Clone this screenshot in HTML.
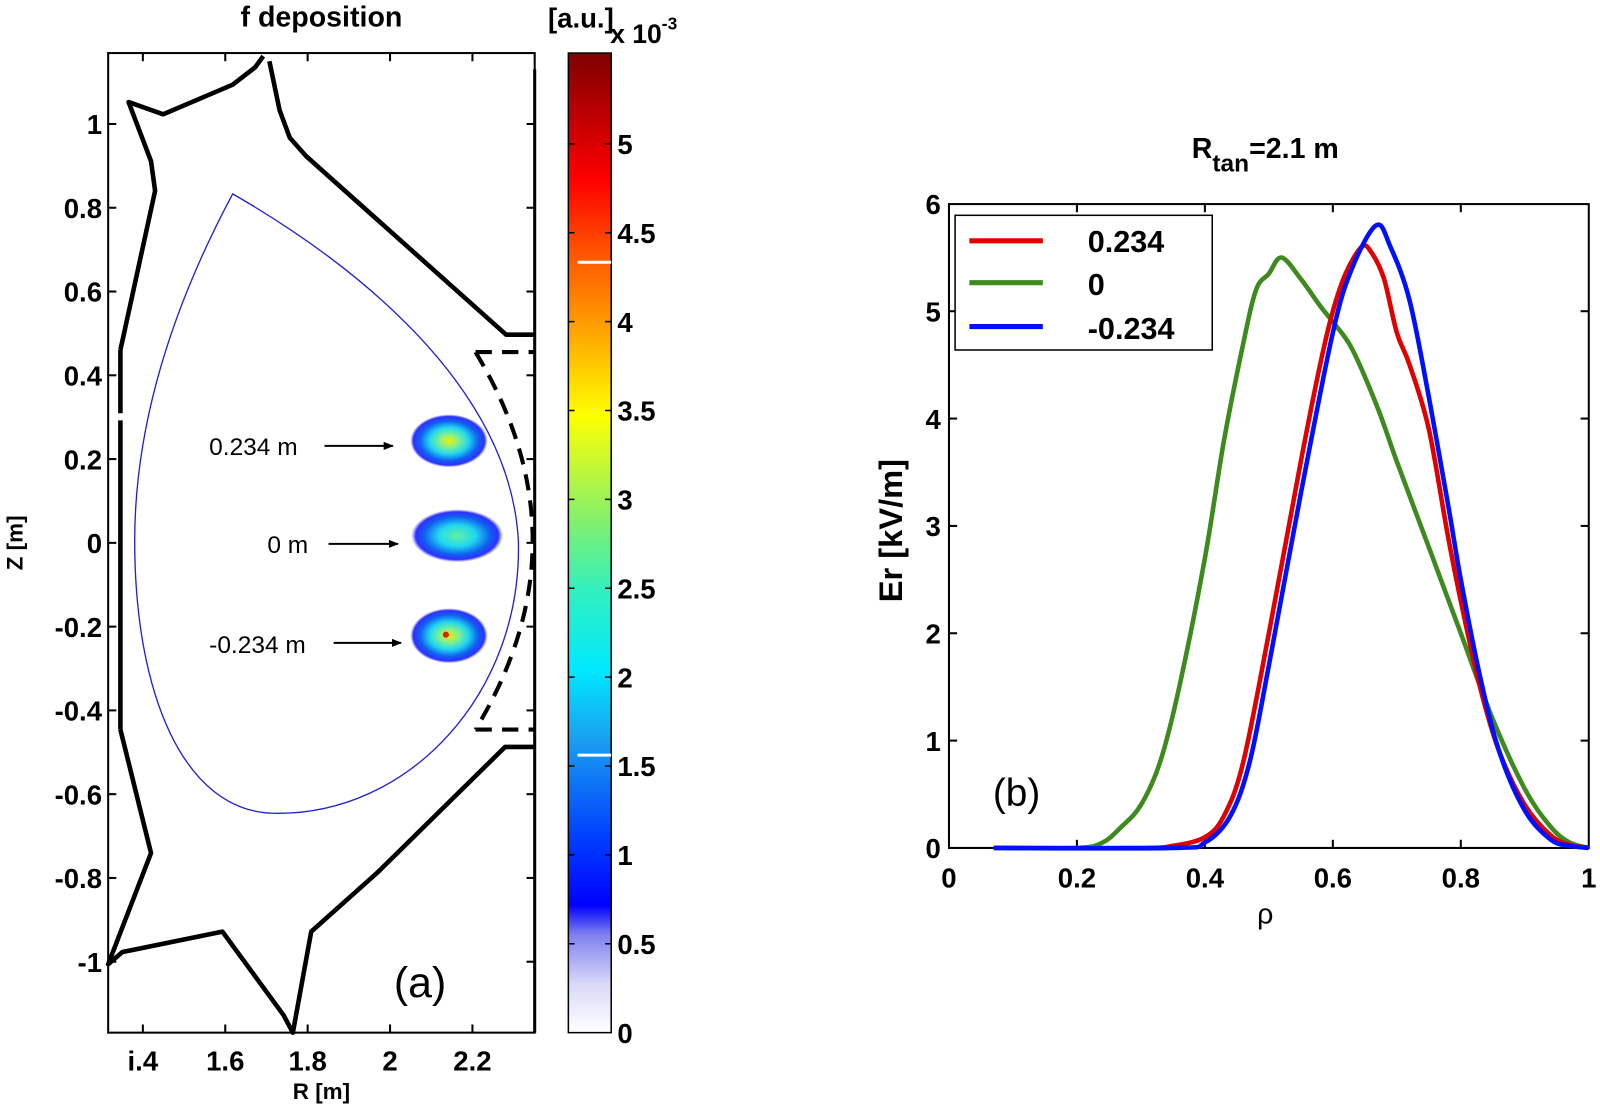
<!DOCTYPE html>
<html><head><meta charset="utf-8"><style>
html,body{margin:0;padding:0;background:#fff;}
svg{display:block;font-family:"Liberation Sans",Arial,sans-serif;}
.b{font-weight:bold;}
</style></head><body>
<svg id="s" width="1600" height="1110" viewBox="0 0 1600 1110" xmlns="http://www.w3.org/2000/svg">
<defs>
<linearGradient id="jet" x1="0" y1="1" x2="0" y2="0">
<stop offset="0" stop-color="#ffffff"/>
<stop offset="0.05" stop-color="#d8d8f8"/>
<stop offset="0.1" stop-color="#8080f0"/>
<stop offset="0.13" stop-color="#0000ff"/>
<stop offset="0.2" stop-color="#0040ff"/>
<stop offset="0.3" stop-color="#1aa0f0"/>
<stop offset="0.37" stop-color="#00e8ff"/>
<stop offset="0.45" stop-color="#30f0c0"/>
<stop offset="0.52" stop-color="#80f070"/>
<stop offset="0.63" stop-color="#ffff00"/>
<stop offset="0.72" stop-color="#ffa000"/>
<stop offset="0.8" stop-color="#ff5000"/>
<stop offset="0.87" stop-color="#ff0000"/>
<stop offset="1" stop-color="#800000"/>
</linearGradient>
<radialGradient id="blob">
<stop offset="0" stop-color="#f0f000"/>
<stop offset="0.25" stop-color="#80f090"/>
<stop offset="0.5" stop-color="#20d8f0"/>
<stop offset="0.75" stop-color="#1060f0"/>
<stop offset="0.92" stop-color="#3030ff"/>
<stop offset="1" stop-color="#6060ff" stop-opacity="0"/>
</radialGradient>
<radialGradient id="blob0">
<stop offset="0" stop-color="#60f0a0"/>
<stop offset="0.4" stop-color="#20d8f0"/>
<stop offset="0.72" stop-color="#1060f0"/>
<stop offset="0.9" stop-color="#3030ff"/>
<stop offset="1" stop-color="#6060ff" stop-opacity="0"/>
</radialGradient>
<marker id="ar" markerWidth="10" markerHeight="8" refX="9" refY="4" orient="auto" markerUnits="userSpaceOnUse">
<path d="M0,0 L10,4 L0,8 z" fill="#000"/></marker>
</defs>
<g transform="scale(1.0204)">
<text x="315" y="26" font-size="28" class="b" text-anchor="middle">f deposition</text>
<text x="537" y="27" font-size="27" class="b">[a.u.]</text>
<text x="598" y="42" font-size="26" class="b">x 10<tspan dy="-13" font-size="17">-3</tspan></text>

<rect x="106" y="52" width="418" height="960" fill="none" stroke="#000" stroke-width="2"/>
<g id="lt" stroke="#000" stroke-width="2"></g>
<g id="ll" class="b" font-size="27"></g>

<polyline fill="none" stroke="#000" stroke-width="4.5" stroke-linejoin="round" points="118,343 152,187 148,158 126,100 160,112 228,83 250,66 258,55"/>
<polyline fill="none" stroke="#000" stroke-width="4.5" stroke-linejoin="round" points="264,60 274,108 284,135 300,153 496,328 524,328"/>
<line x1="118" y1="343" x2="118" y2="405" stroke="#000" stroke-width="4.5"/>
<line x1="118" y1="412" x2="118" y2="715" stroke="#000" stroke-width="4.5"/>
<polyline fill="none" stroke="#000" stroke-width="4.5" stroke-linejoin="round" points="118,715 148,836 106,945 120,933 218,913 278,995 287,1012 305,913 370,855 495,732 524,732"/>
<line x1="524" y1="68" x2="524" y2="1012" stroke="#000" stroke-width="3"/>
<path d="M466,345 L524,345 M466,715 L524,715 M466,345 Q578,530 466,715" fill="none" stroke="#000" stroke-width="4" stroke-dasharray="16,10"/>

<path d="M228,190 C350,260 500,380 508,530 C512,680 400,800 268,797 C180,795 132,680 132,530 C132,400 180,280 228,190 Z" fill="none" stroke="#2020d0" stroke-width="1.3"/>

<ellipse cx="440" cy="432" rx="38" ry="26" fill="url(#blob)"/>
<ellipse cx="448" cy="525" rx="45" ry="26" fill="url(#blob0)"/>
<ellipse cx="440" cy="623" rx="38" ry="27" fill="url(#blob)"/>
<circle cx="437" cy="622" r="3" fill="#e02000"/>

<g font-size="24">
<text x="205" y="446">0.234 m</text>
<text x="262" y="542">0 m</text>
<text x="205" y="640">-0.234 m</text>
</g>
<g stroke="#000" stroke-width="2" marker-end="url(#ar)">
<line x1="318" y1="437" x2="385" y2="437"/>
<line x1="322" y1="533" x2="390" y2="533"/>
<line x1="327" y1="630" x2="393" y2="630"/>
</g>
<text x="386" y="977" font-size="42">(a)</text>
<text x="315" y="1077" font-size="22" class="b" text-anchor="middle">R [m]</text>
<text transform="translate(22,532) rotate(-90)" font-size="22" class="b" text-anchor="middle">Z [m]</text>

<rect x="557" y="52" width="42" height="960" fill="url(#jet)" stroke="#000" stroke-width="1.5"/>
<g id="ct" stroke="#000" stroke-width="1.5"></g>
<line x1="566" y1="257" x2="599" y2="257" stroke="#fff" stroke-width="3"/>
<line x1="566" y1="740" x2="599" y2="740" stroke="#fff" stroke-width="3"/>
<g id="cl" class="b" font-size="27"></g>

<text x="1240" y="155" font-size="28" class="b" text-anchor="middle">R<tspan dy="13" font-size="24">tan</tspan><tspan dy="-13">=2.1 m</tspan></text>
<rect x="930" y="200" width="627" height="631" fill="none" stroke="#000" stroke-width="2"/>
<g id="rt" stroke="#000" stroke-width="2"></g>
<g id="rl" class="b" font-size="27"></g>
<text transform="translate(884,520) rotate(-90)" font-size="32" class="b" text-anchor="middle">Er [kV/m]</text>
<text x="1240" y="905" font-size="28" text-anchor="middle">ρ</text>
<text x="973" y="790" font-size="38">(b)</text>
<g id="curves" fill="none" stroke-width="4.5" stroke-linejoin="round"></g>

<rect x="936" y="211" width="252" height="132" fill="#fff" stroke="#000" stroke-width="1.5"/>
<line x1="950" y1="236" x2="1022" y2="236" stroke="#e00000" stroke-width="5"/>
<line x1="950" y1="277" x2="1022" y2="277" stroke="#3e8a1e" stroke-width="5"/>
<line x1="950" y1="320" x2="1022" y2="320" stroke="#0010ff" stroke-width="5"/>
<g class="b" font-size="30">
<text x="1066" y="247">0.234</text>
<text x="1066" y="289">0</text>
<text x="1066" y="332">-0.234</text>
</g>
</g>
</svg>
<script>
var NS="http://www.w3.org/2000/svg";
function el(p,t,a,txt){var e=document.createElementNS(NS,t);for(var k in a)e.setAttribute(k,a[k]);if(txt!==undefined)e.textContent=txt;document.getElementById(p).appendChild(e);return e;}
var rx=function(R){return 140+(R-1.4)*403.75;};
var zy=function(Z){return 532-Z*410.5;};
[1.4,1.6,1.8,2.0,2.2].forEach(function(R,i){var x=rx(R);
 el("lt","line",{x1:x,y1:52,x2:x,y2:60});el("lt","line",{x1:x,y1:1012,x2:x,y2:1004});
 el("ll","text",{x:x,y:1049,"text-anchor":"middle"},["i.4","1.6","1.8","2","2.2"][i]);});
[1,0.8,0.6,0.4,0.2,0,-0.2,-0.4,-0.6,-0.8,-1].forEach(function(Z){var y=zy(Z);
 el("lt","line",{x1:106,y1:y,x2:114,y2:y});el("lt","line",{x1:524,y1:y,x2:516,y2:y});
 el("ll","text",{x:100,y:y+10,"text-anchor":"end"},String(Z));});
for(var v=0;v<=5;v+=0.5){var y=1012-v*174.2;
 if(v>0){el("ct","line",{x1:557,y1:y,x2:563,y2:y});el("ct","line",{x1:599,y1:y,x2:593,y2:y});}
 el("cl","text",{x:605,y:y+10},String(v));}
var px=function(r){return 930+r*627;};var py=function(v){return 831-v*105.2;};
[0,0.2,0.4,0.6,0.8,1].forEach(function(r){var x=px(r);
 if(r>0&&r<1){el("rt","line",{x1:x,y1:831,x2:x,y2:823});el("rt","line",{x1:x,y1:200,x2:x,y2:208});}
 el("rl","text",{x:x,y:870,"text-anchor":"middle"},String(r));});
[0,1,2,3,4,5,6].forEach(function(v){var y=py(v);
 if(v>0&&v<6){el("rt","line",{x1:930,y1:y,x2:938,y2:y});el("rt","line",{x1:1557,y1:y,x2:1549,y2:y});}
 el("rl","text",{x:922,y:y+10,"text-anchor":"end"},String(v));});
function draw(pts,c){
 var P=pts.map(function(p){return [px(p[0]),py(p[1])];});
 var d="M"+P[0][0].toFixed(1)+","+P[0][1].toFixed(1);
 for(var i=0;i<P.length-1;i++){var p0=P[Math.max(i-1,0)],p1=P[i],p2=P[i+1],p3=P[Math.min(i+2,P.length-1)];
  var c1=[p1[0]+(p2[0]-p0[0])/6,p1[1]+(p2[1]-p0[1])/6],c2=[p2[0]-(p3[0]-p1[0])/6,p2[1]-(p3[1]-p1[1])/6];
  d+="C"+c1[0].toFixed(1)+","+c1[1].toFixed(1)+" "+c2[0].toFixed(1)+","+c2[1].toFixed(1)+" "+p2[0].toFixed(1)+","+p2[1].toFixed(1);}
 el("curves","path",{d:d,stroke:c});}
draw([[0.07,0],[0.2,0],[0.24,0.05],[0.27,0.2],[0.3,0.4],[0.33,0.8],[0.36,1.5],[0.4,2.7],[0.43,3.8],[0.46,4.7],[0.48,5.2],[0.5,5.35],[0.52,5.5],[0.55,5.3],[0.58,5.05],[0.6,4.9],[0.63,4.65],[0.67,4.1],[0.7,3.6],[0.75,2.8],[0.8,2.0],[0.85,1.2],[0.9,0.55],[0.94,0.2],[0.97,0.05],[1,0]],"#3e8a1e");
draw([[0.07,0],[0.3,0],[0.35,0.02],[0.4,0.1],[0.43,0.3],[0.46,0.8],[0.5,2.0],[0.55,3.6],[0.58,4.5],[0.6,5.0],[0.62,5.35],[0.645,5.6],[0.66,5.55],[0.68,5.3],[0.7,4.8],[0.72,4.5],[0.75,3.9],[0.78,2.9],[0.8,2.3],[0.83,1.5],[0.86,0.9],[0.9,0.4],[0.94,0.12],[0.97,0.03],[1.0,0]],"#e00000");
draw([[0.07,0],[0.35,0],[0.4,0.05],[0.44,0.3],[0.47,0.8],[0.5,1.7],[0.55,3.3],[0.6,4.8],[0.63,5.4],[0.668,5.8],[0.69,5.6],[0.72,5.1],[0.75,4.2],[0.78,3.2],[0.8,2.5],[0.83,1.6],[0.86,0.9],[0.9,0.35],[0.94,0.08],[0.97,0.02],[1,0]],"#0010ff");
</script>
</body></html>
